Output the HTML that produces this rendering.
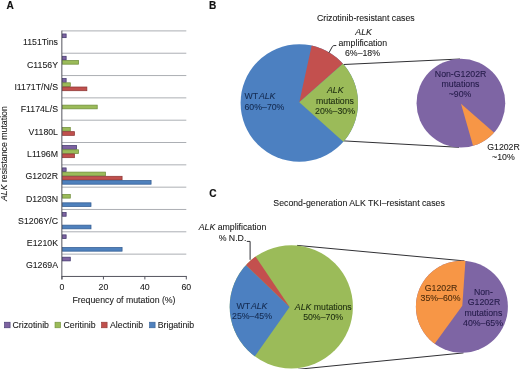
<!DOCTYPE html>
<html><head><meta charset="utf-8"><title>ALK resistance mutations</title>
<style>
html,body{margin:0;padding:0;background:#fff;}
svg{display:block;}
text{font-family:"Liberation Sans",sans-serif;font-size:8.75px;fill:#1a1a1a;stroke:#1a1a1a;stroke-width:0.08px;}
.b{font-weight:bold;font-size:10.1px;fill:#111;stroke:#111;stroke-width:0.15px;}
.i{font-style:italic;}
.m{text-anchor:middle;}
.e{text-anchor:end;}
.tb{fill:#142a50;stroke:#142a50;}
.tg{fill:#1c2b10;stroke:#1c2b10;}
.tp{fill:#231a48;stroke:#231a48;}
.to{fill:#4d2c0c;stroke:#4d2c0c;}
</style></head><body>
<svg width="520" height="369" viewBox="0 0 520 369">
<rect width="520" height="369" fill="#fff"/>

<text class="b" x="6.4" y="9.4">A</text>
<line x1="62.0" y1="30.90" x2="186.3" y2="30.90" stroke="#a3a6ac" stroke-width="0.9"/>
<line x1="62.0" y1="53.22" x2="186.3" y2="53.22" stroke="#a3a6ac" stroke-width="0.9"/>
<line x1="62.0" y1="75.55" x2="186.3" y2="75.55" stroke="#a3a6ac" stroke-width="0.9"/>
<line x1="62.0" y1="97.87" x2="186.3" y2="97.87" stroke="#a3a6ac" stroke-width="0.9"/>
<line x1="62.0" y1="120.19" x2="186.3" y2="120.19" stroke="#a3a6ac" stroke-width="0.9"/>
<line x1="62.0" y1="142.51" x2="186.3" y2="142.51" stroke="#a3a6ac" stroke-width="0.9"/>
<line x1="62.0" y1="164.84" x2="186.3" y2="164.84" stroke="#a3a6ac" stroke-width="0.9"/>
<line x1="62.0" y1="187.16" x2="186.3" y2="187.16" stroke="#a3a6ac" stroke-width="0.9"/>
<line x1="62.0" y1="209.48" x2="186.3" y2="209.48" stroke="#a3a6ac" stroke-width="0.9"/>
<line x1="62.0" y1="231.80" x2="186.3" y2="231.80" stroke="#a3a6ac" stroke-width="0.9"/>
<line x1="62.0" y1="254.13" x2="186.3" y2="254.13" stroke="#a3a6ac" stroke-width="0.9"/>
<rect x="62.30" y="33.96" width="3.84" height="3.70" fill="#7e63a1" stroke="#40376e" stroke-width="0.75"/>
<text class="e" x="58" y="45.26">1151Tins</text>
<rect x="62.30" y="56.28" width="3.84" height="3.70" fill="#7e63a1" stroke="#40376e" stroke-width="0.75"/>
<rect x="62.30" y="60.48" width="16.27" height="3.70" fill="#9bbb59" stroke="#6f8e3a" stroke-width="0.75"/>
<text class="e" x="58" y="67.58">C1156Y</text>
<rect x="62.30" y="78.61" width="3.84" height="3.70" fill="#7e63a1" stroke="#40376e" stroke-width="0.75"/>
<rect x="62.30" y="82.81" width="7.99" height="3.70" fill="#9bbb59" stroke="#6f8e3a" stroke-width="0.75"/>
<rect x="62.30" y="87.01" width="24.56" height="3.70" fill="#c0504d" stroke="#8e3634" stroke-width="0.75"/>
<text class="e" x="58" y="89.91">I1171T/N/S</text>
<rect x="62.30" y="105.13" width="34.92" height="3.70" fill="#9bbb59" stroke="#6f8e3a" stroke-width="0.75"/>
<text class="e" x="58" y="112.23">F1174L/S</text>
<rect x="62.30" y="127.45" width="7.99" height="3.70" fill="#9bbb59" stroke="#6f8e3a" stroke-width="0.75"/>
<rect x="62.30" y="131.65" width="12.13" height="3.70" fill="#c0504d" stroke="#8e3634" stroke-width="0.75"/>
<text class="e" x="58" y="134.55">V1180L</text>
<rect x="62.30" y="145.57" width="14.20" height="3.70" fill="#7e63a1" stroke="#40376e" stroke-width="0.75"/>
<rect x="62.30" y="149.77" width="16.27" height="3.70" fill="#9bbb59" stroke="#6f8e3a" stroke-width="0.75"/>
<rect x="62.30" y="153.97" width="12.13" height="3.70" fill="#c0504d" stroke="#8e3634" stroke-width="0.75"/>
<text class="e" x="58" y="156.87">L1196M</text>
<rect x="62.30" y="167.90" width="3.84" height="3.70" fill="#7e63a1" stroke="#40376e" stroke-width="0.75"/>
<rect x="62.30" y="172.10" width="43.21" height="3.70" fill="#9bbb59" stroke="#6f8e3a" stroke-width="0.75"/>
<rect x="62.30" y="176.30" width="59.78" height="3.70" fill="#c0504d" stroke="#8e3634" stroke-width="0.75"/>
<rect x="62.30" y="180.50" width="88.78" height="3.70" fill="#4f81bd" stroke="#335c92" stroke-width="0.75"/>
<text class="e" x="58" y="179.20">G1202R</text>
<rect x="62.30" y="194.42" width="7.99" height="3.70" fill="#9bbb59" stroke="#6f8e3a" stroke-width="0.75"/>
<rect x="62.30" y="202.82" width="28.70" height="3.70" fill="#4f81bd" stroke="#335c92" stroke-width="0.75"/>
<text class="e" x="58" y="201.52">D1203N</text>
<rect x="62.30" y="212.54" width="3.84" height="3.70" fill="#7e63a1" stroke="#40376e" stroke-width="0.75"/>
<rect x="62.30" y="225.14" width="28.70" height="3.70" fill="#4f81bd" stroke="#335c92" stroke-width="0.75"/>
<text class="e" x="58" y="223.84">S1206Y/C</text>
<rect x="62.30" y="234.87" width="3.84" height="3.70" fill="#7e63a1" stroke="#40376e" stroke-width="0.75"/>
<rect x="62.30" y="247.47" width="59.78" height="3.70" fill="#4f81bd" stroke="#335c92" stroke-width="0.75"/>
<text class="e" x="58" y="246.17">E1210K</text>
<rect x="62.30" y="257.19" width="7.99" height="3.70" fill="#7e63a1" stroke="#40376e" stroke-width="0.75"/>
<text class="e" x="58" y="268.49">G1269A</text>
<line x1="61.85" y1="30.5" x2="61.85" y2="279.45" stroke="#54545e" stroke-width="1"/>
<line x1="61.5" y1="276.45" x2="186.8" y2="276.45" stroke="#54545e" stroke-width="1"/>
<line x1="62.00" y1="276.45" x2="62.00" y2="279.45" stroke="#54545e" stroke-width="1"/>
<text class="m" x="62.00" y="289.75">0</text>
<line x1="103.43" y1="276.45" x2="103.43" y2="279.45" stroke="#54545e" stroke-width="1"/>
<text class="m" x="103.43" y="289.75">20</text>
<line x1="144.87" y1="276.45" x2="144.87" y2="279.45" stroke="#54545e" stroke-width="1"/>
<text class="m" x="144.87" y="289.75">40</text>
<line x1="186.30" y1="276.45" x2="186.30" y2="279.45" stroke="#54545e" stroke-width="1"/>
<text class="m" x="186.30" y="289.75">60</text>
<text class="m" x="124" y="303">Frequency of mutation (%)</text>
<text class="m" transform="translate(7.4,153.6) rotate(-90)"><tspan class="i">ALK</tspan> resistance mutation</text>
<rect x="4.5" y="322.2" width="5.6" height="5.6" fill="#7e63a1" stroke="#40376e" stroke-width="0.6"/>
<text x="12.5" y="328.2">Crizotinib</text>
<rect x="55" y="322.2" width="5.6" height="5.6" fill="#9bbb59" stroke="#6f8e3a" stroke-width="0.6"/>
<text x="63.5" y="328.2">Ceritinib</text>
<rect x="101.5" y="322.2" width="5.6" height="5.6" fill="#c0504d" stroke="#8e3634" stroke-width="0.6"/>
<text x="110" y="328.2">Alectinib</text>
<rect x="149.5" y="322.2" width="5.6" height="5.6" fill="#4f81bd" stroke="#335c92" stroke-width="0.6"/>
<text x="157.7" y="328.2">Brigatinib</text>
<text class="b" x="208.9" y="9.4">B</text>
<text class="m" x="365.8" y="20.7">Crizotinib-resistant cases</text>
<line x1="343.50" y1="64.50" x2="460" y2="59.0" stroke="#303034" stroke-width="1"/>
<line x1="343.80" y1="140.90" x2="459" y2="147.3" stroke="#303034" stroke-width="1"/>
<clipPath id="c1"><circle cx="299.3" cy="103.0" r="58.7"/></clipPath>
<g clip-path="url(#c1)">
<circle cx="299.3" cy="103.0" r="59.7" fill="#4c80c1"/>
<path d="M299.30,102.30 L315.56,27.74 A76.31,76.31 0 0 1 356.45,51.74 Z" fill="#c3504e"/>
<path d="M299.30,102.30 L356.45,51.74 A76.31,76.31 0 0 1 356.19,153.16 Z" fill="#9bbb59"/>
</g>
<clipPath id="c2"><circle cx="460.9" cy="103.2" r="44.35"/></clipPath>
<g clip-path="url(#c2)">
<circle cx="460.9" cy="103.2" r="45.35" fill="#7e65a4"/>
<path d="M461.00,103.80 L504.51,141.63 A57.655,57.655 0 0 1 476.89,159.22 Z" fill="#f79646"/>
</g>
<text class="tb" x="244.5" y="99.3">WT<tspan class="i" dx="0.8">ALK</tspan></text>
<text class="tb" x="244.5" y="109.9">60%–70%</text>
<text class="m i tg" x="335.3" y="92.5">ALK</text>
<text class="m tg" x="335" y="103.6">mutations</text>
<text class="m tg" x="335" y="113.9">20%–30%</text>
<text class="m i" x="363.6" y="35">ALK</text>
<text class="m" x="362.8" y="45.8">amplification</text>
<text class="m" x="362.5" y="56.2">6%–18%</text>
<path d="M336.3,45.5 L333.8,45.6 Q332.7,45.7 332.3,46.7 L328.9,52.9" fill="none" stroke="#303034" stroke-width="1"/>
<text class="m tp" x="460.6" y="76.8">Non-G1202R</text>
<text class="m tp" x="460.5" y="87.2">mutations</text>
<text class="m tp" x="460" y="97.0">~90%</text>
<text class="m" x="503.5" y="150">G1202R</text>
<text class="m" x="503.4" y="160.2">~10%</text>
<text class="b" x="209.2" y="197.2">C</text>
<text class="m" x="359.1" y="206.4">Second-generation ALK TKI–resistant cases</text>
<line x1="297" y1="245.4" x2="464.5" y2="260.9" stroke="#303034" stroke-width="1"/>
<line x1="298" y1="369.3" x2="463.5" y2="352.9" stroke="#303034" stroke-width="1"/>
<clipPath id="c3"><circle cx="291.3" cy="306.8" r="61.6"/></clipPath>
<g clip-path="url(#c3)">
<circle cx="291.3" cy="306.8" r="62.6" fill="#9bbb59"/>
<path d="M289.60,307.10 L243.44,372.54 A80.08,80.08 0 0 1 232.00,251.47 Z" fill="#4c80c1"/>
<path d="M289.60,307.10 L232.00,251.47 A80.08,80.08 0 0 1 244.82,240.71 Z" fill="#c3504e"/>
</g>
<clipPath id="c4"><circle cx="461.9" cy="306.7" r="46"/></clipPath>
<g clip-path="url(#c4)">
<circle cx="461.9" cy="306.7" r="47" fill="#7e65a4"/>
<path d="M462.30,305.70 L427.15,354.08 A59.800000000000004,59.800000000000004 0 0 1 466.47,246.05 Z" fill="#f79646"/>
</g>
<text class="m" x="232.5" y="230.3"><tspan class="i">ALK</tspan> amplification</text>
<text class="m" x="232.5" y="241.2">% N.D.</text>
<path d="M246.8,241.4 L250.1,241.4 L250.1,259.8" fill="none" stroke="#303034" stroke-width="1"/>
<text class="m tb" x="252" y="308.8">WT<tspan class="i" dx="0.8">ALK</tspan></text>
<text class="m tb" x="252" y="318.8">25%–45%</text>
<text class="m tg" x="323.3" y="309.6"><tspan class="i">ALK</tspan> mutations</text>
<text class="m tg" x="323.1" y="319.6">50%–70%</text>
<text class="m to" x="441.1" y="290.8">G1202R</text>
<text class="m to" x="440.5" y="301.3">35%–60%</text>
<text class="m tp" x="483.4" y="295">Non-</text>
<text class="m tp" x="484" y="305.2">G1202R</text>
<text class="m tp" x="483.4" y="315.8">mutations</text>
<text class="m tp" x="483" y="325.8">40%–65%</text>
</svg></body></html>
